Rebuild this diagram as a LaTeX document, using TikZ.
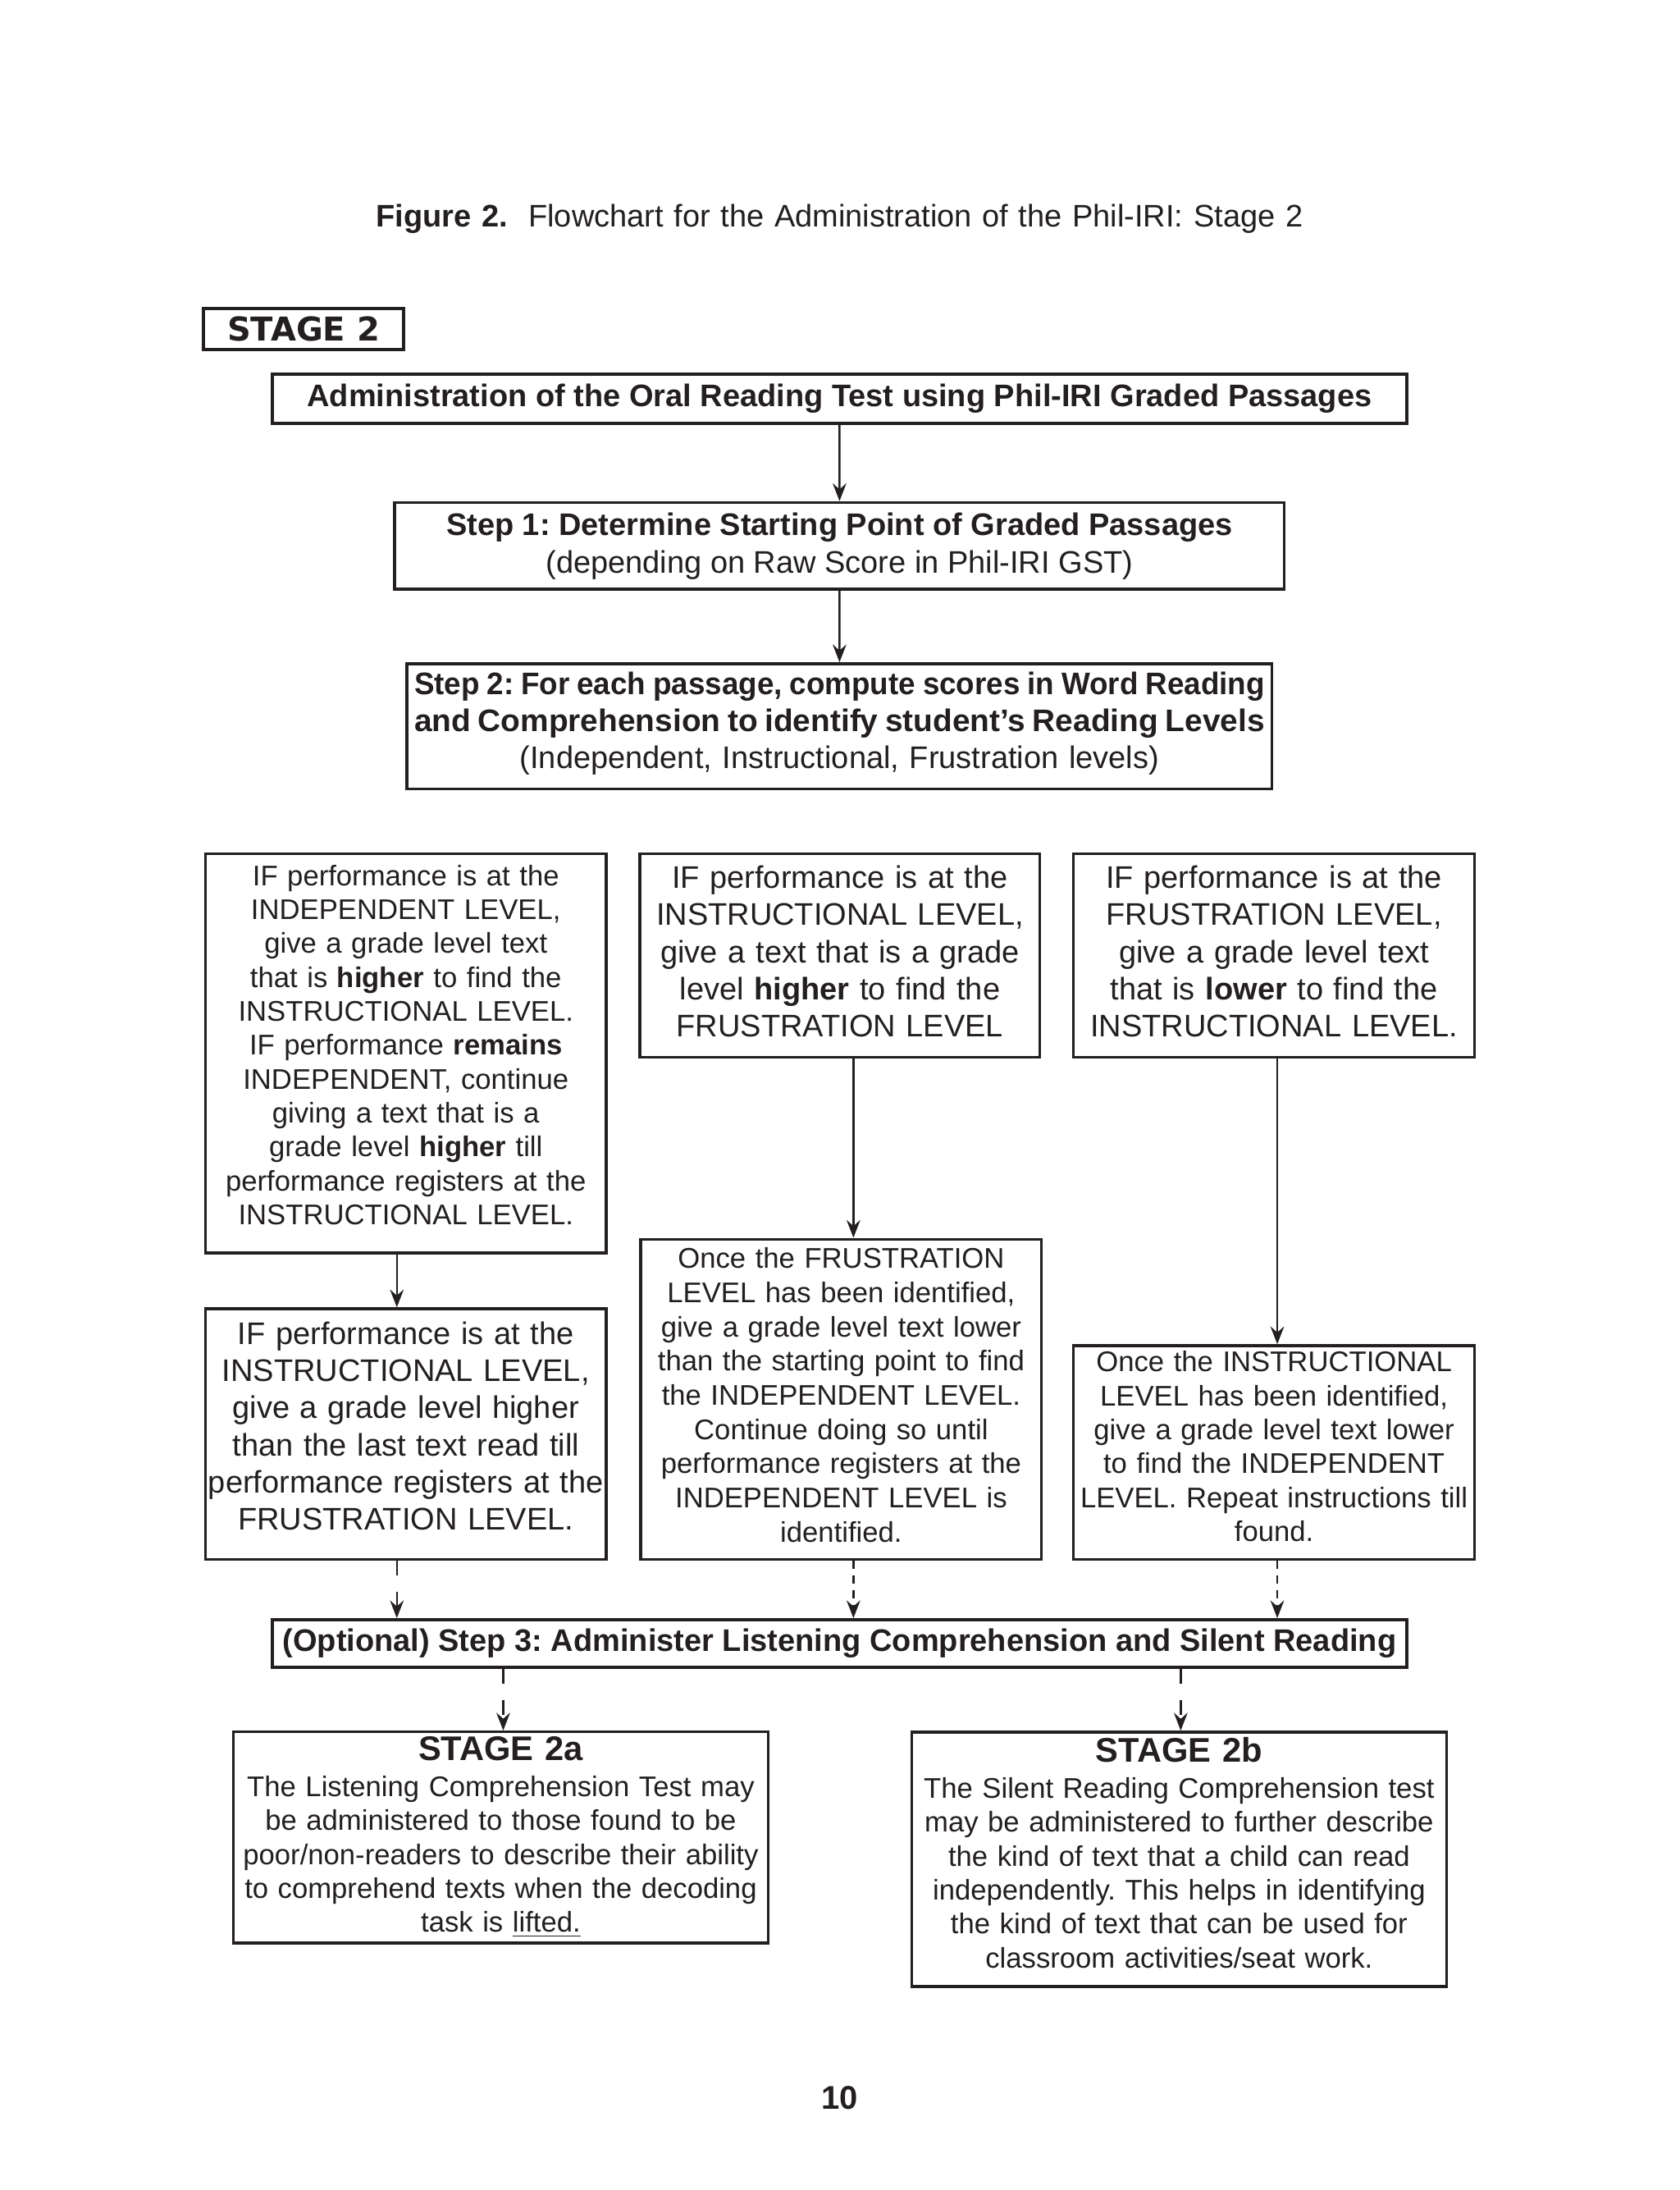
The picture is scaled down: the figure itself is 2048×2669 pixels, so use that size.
\documentclass[tikz,border=0pt]{standalone}
\usepackage{graphicx}
\usepackage{fontspec}
\setmainfont{Liberation Sans}
\newfontfamily\heavyfont{DejaVu Sans}
\usetikzlibrary{arrows.meta}
\definecolor{ink}{HTML}{231F20}
\newcommand\setfs[2]{\fontsize{#1}{#2}\selectfont}
\newcommand\fitline[2]{\resizebox{#1}{\height}{#2}}
\frenchspacing
\begin{document}
\begin{tikzpicture}[x=0.3pt,y=-0.3pt,
  box/.style={draw=ink, line width=1pt, inner sep=0pt, text=ink},
  hbox/.style={box, line width=1.1pt, align=center},
  txt/.style={align=center, text width=190pt, inner sep=0pt, text=ink},
  arr/.style={draw=ink, line width=0.7pt, -{Stealth[length=6.5pt,width=5pt,inset=2.2pt]}},
  dlong/.style={dash pattern=on 5.4pt off 6pt},
  dshort/.style={dash pattern=on 3pt off 2.4pt}]
\useasboundingbox (0,0) rectangle (2048,2669);
\fill[white] (0,0) rectangle (2048,2669);

\begin{scope}[scale=0.9975]
% title
\node[txt, text width=420pt, font=\setfs{11.4}{13.6}] (title) at (1026,267)
  {\textbf{Figure 2.}\ \ Flowchart for the Administration of the Phil-IRI: Stage 2};

% STAGE 2 label
\node[box, line width=1.2pt, minimum width=73.3pt, minimum height=15pt, font=\heavyfont\bfseries\setfs{12}{14}] (stage) at (371,402) {STAGE 2};

% header boxes
\node[hbox, minimum width=415pt, minimum height=18pt, font=\bfseries\setfs{11.4}{13.6}] (admin) at (1026,487)
  {Administration of the Oral Reading Test using Phil-IRI Graded Passages};
\node[hbox, minimum width=325.3pt, minimum height=31.7pt, font=\setfs{11.4}{13.8}] (step1) at (1026,667)
  {\textbf{Step 1: Determine Starting Point of Graded Passages}\\(depending on Raw Score in Phil-IRI GST)};
\node[hbox, minimum width=316.3pt, minimum height=45.8pt] (step2) at (1026,887.5) {};
\node[txt, text width=330pt, font=\setfs{11.4}{13.5}] (step2t) at (1026,884)
  {\fitline{311pt}{\bfseries\setfs{11.4}{13.5}\spaceskip=0.24em\relax Step 2: For each passage, compute scores in Word Reading}\\
   \fitline{311pt}{\bfseries\setfs{11.4}{13.5}\spaceskip=0.22em\relax and Comprehension to identify student’s Reading Levels}\\
   (Independent, Instructional, Frustration levels)};

% first row of boxes
\node[box, minimum width=146.6pt, minimum height=146pt] (L1) at (496,1287) {};
\node[txt, anchor=north, font=\setfs{10.4}{12.4}] (L1t) at (496,1056)
  {IF performance is at the\\
   INDEPENDENT LEVEL,\\
   give a grade level text\\
   that is \textbf{higher} to find the\\
   INSTRUCTIONAL LEVEL.\\
   IF performance \textbf{remains}\\
   INDEPENDENT, continue\\
   giving a text that is a\\
   grade level \textbf{higher} till\\
   performance registers at the\\
   INSTRUCTIONAL LEVEL.};

\node[box, minimum width=146.3pt, minimum height=74.5pt] (M1) at (1026.5,1167.5) {};
\node[txt, anchor=north, font=\setfs{11.4}{13.6}] (M1t) at (1026.5,1057)
  {IF performance is at the\\
   INSTRUCTIONAL LEVEL,\\
   give a text that is a grade\\
   level \textbf{higher} to find the\\
   FRUSTRATION LEVEL};

\node[box, minimum width=146.6pt, minimum height=74.5pt] (R1) at (1557,1167.5) {};
\node[txt, anchor=north, font=\setfs{11.4}{13.6}] (R1t) at (1557,1057)
  {IF performance is at the\\
   FRUSTRATION LEVEL,\\
   give a grade level text\\
   that is \textbf{lower} to find the\\
   INSTRUCTIONAL LEVEL.};

% second row of boxes
\node[box, minimum width=146.6pt, minimum height=91.6pt] (L2) at (496,1752) {};
\node[txt, anchor=north, font=\setfs{11.4}{13.6}] (L2t) at (496,1614)
  {IF performance is at the\\
   INSTRUCTIONAL LEVEL,\\
   give a grade level higher\\
   than the last text read till\\
   performance registers at the\\
   FRUSTRATION LEVEL.};

\node[box, minimum width=146.6pt, minimum height=117pt] (M2) at (1028,1709.5) {};
\node[txt, anchor=north, font=\setfs{10.4}{12.5}] (M2t) at (1028,1524)
  {Once the FRUSTRATION\\
   LEVEL has been identified,\\
   give a grade level text lower\\
   than the starting point to find\\
   the INDEPENDENT LEVEL.\\
   Continue doing so until\\
   performance registers at the\\
   INDEPENDENT LEVEL is\\
   identified.};

\node[box, minimum width=146.6pt, minimum height=78.1pt] (R2) at (1557,1774.5) {};
\node[txt, anchor=north, font=\setfs{10.4}{12.4}] (R2t) at (1557,1650)
  {Once the INSTRUCTIONAL\\
   LEVEL has been identified,\\
   give a grade level text lower\\
   to find the INDEPENDENT\\
   LEVEL. Repeat instructions till\\
   found.};

% optional step 3
\node[hbox, minimum width=415pt, minimum height=17.4pt, font=\bfseries\setfs{11.4}{13.6}] (opt) at (1026,2008)
  {(Optional) Step 3: Administer Listening Comprehension and Silent Reading};

% stage 2a / 2b
\node[box, minimum width=195.7pt, minimum height=77.2pt] (S2a) at (612,2245) {};
\node[txt, font=\bfseries\setfs{12.5}{14}] (S2ah) at (612,2136) {STAGE 2a};
\node[txt, anchor=north, text width=200pt, font=\setfs{10.4}{12.4}] (S2at) at (612,2169)
  {The Listening Comprehension Test may\\
   be administered to those found to be\\
   poor/non-readers to describe their ability\\
   to comprehend texts when the decoding\\
   task is \underline{lifted.}};

\node[box, minimum width=195.7pt, minimum height=93pt] (S2b) at (1441,2271.5) {};
\node[txt, font=\bfseries\setfs{12.5}{14}] (S2bh) at (1441,2138) {STAGE 2b};
\node[txt, anchor=north, text width=200pt, font=\setfs{10.4}{12.4}] (S2bt) at (1441,2171)
  {The Silent Reading Comprehension test\\
   may be administered to further describe\\
   the kind of text that a child can read\\
   independently. This helps in identifying\\
   the kind of text that can be used for\\
   classroom activities/seat work.};

% page number
\node[txt, font=\bfseries\setfs{12}{14}] (pg) at (1026,2563) {10};

% connectors
\coordinate (xl) at (485,0);
\coordinate (xm) at (1043,0);
\coordinate (xr) at (1561,0);
\coordinate (xa) at (615,0);
\coordinate (xb) at (1443,0);
\draw[arr] (admin) -- (step1);
\draw[arr] (step1) -- (step2);
\draw[arr] (L1.south -| xl) -- (L2.north -| xl);
\draw[arr] (M1.south -| xm) -- (M2.north -| xm);
\draw[arr] (R1.south -| xr) -- (R2.north -| xr);
\draw[arr,dlong] (L2.south -| xl) -- (opt.north -| xl);
\draw[arr,dshort] (M2.south -| xm) -- (opt.north -| xm);
\draw[arr,dshort] (R2.south -| xr) -- (opt.north -| xr);
\draw[arr,dlong] (opt.south -| xa) -- (S2a.north -| xa);
\draw[arr,dlong] (opt.south -| xb) -- (S2b.north -| xb);
\end{scope}
\end{tikzpicture}
\end{document}
